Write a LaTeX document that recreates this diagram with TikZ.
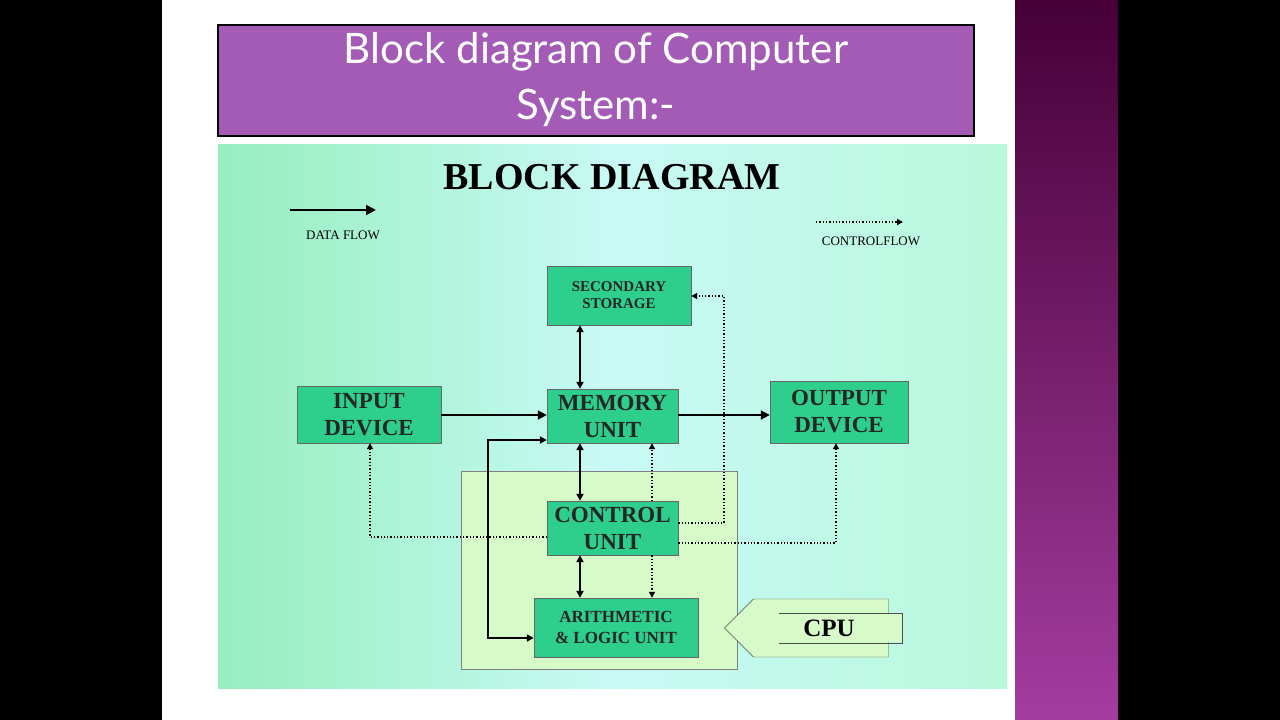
\documentclass[tikz,border=0pt]{standalone}
\usepackage{fontspec}
\setmainfont{Liberation Serif}
\newfontfamily\hdr{Lato}
\usetikzlibrary{arrows.meta,shapes.arrows}
\definecolor{boxg}{RGB}{46,206,140}
\definecolor{hpurp}{RGB}{163,91,181}
\definecolor{cpug}{RGB}{214,250,200}
\begin{document}
\begin{tikzpicture}[x=1pt,y=-1pt,
 blk/.style={draw=black!60,fill=boxg,font=\bfseries,align=center,inner sep=0pt,text=black!85},
 da/.style={line width=1.8pt,-{Triangle[length=9pt,width=9pt]}},
 dd/.style={line width=1.8pt,{Triangle[length=7pt,width=7pt]}-{Triangle[length=7pt,width=7pt]}},
 ca/.style={line width=1.3pt,dotted,-{Triangle[length=6pt,width=6pt]}}]
\useasboundingbox (0,0) rectangle (1280,720);
\fill[black] (0,0) rectangle (1280,720);
\fill[white] (162,0) rectangle (1015,720);
\shade[top color={rgb,255:red,70;green,0;blue,55},bottom color={rgb,255:red,165;green,60;blue,160}] (1015,0) rectangle (1118,720);
\node[draw=black,line width=2pt,fill=hpurp,minimum width=756pt,minimum height=111pt,inner sep=0pt,text=white,font=\hdr\fontsize{42}{56}\selectfont,align=center] (hd) at (596,80) {Block diagram of Computer\\System:-};
\shade[left color={rgb,255:red,150;green,238;blue,190},right color={rgb,255:red,185;green,248;blue,220},middle color={rgb,255:red,200;green,250;blue,245}] (218,144) rectangle (1007,688);
\node[font=\bfseries\fontsize{38}{40}\selectfont] (ti) at (612,177) {BLOCK DIAGRAM};
\coordinate (l1a) at (290,210); \coordinate (l1b) at (376,210);
\draw[line width=2pt,-{Triangle[length=10pt,width=10pt]}] (l1a) -- (l1b);
\node[font=\fontsize{13}{14}\selectfont] (lt1) at (343,235) {DATA FLOW};
\coordinate (l2a) at (816,222); \coordinate (l2b) at (903,222);
\draw[ca,line width=1.5pt] (l2a) -- (l2b);
\node[font=\fontsize{13}{14}\selectfont] (lt2) at (871,241) {CONTROLFLOW};
\node[draw=black!50,fill=cpug,minimum width=276pt,minimum height=198pt,inner sep=0pt] (cpu) at (599,570) {};
\node[blk,minimum width=144pt,minimum height=59pt,font=\bfseries\fontsize{15}{17}\selectfont] (ss) at (619,295.5) {SECONDARY\\STORAGE};
\node[blk,minimum width=144pt,minimum height=57pt,font=\bfseries\fontsize{23}{27}\selectfont] (in) at (369,414.5) {INPUT\\DEVICE};
\node[blk,minimum width=131pt,minimum height=54pt,font=\bfseries\fontsize{23}{27}\selectfont] (mu) at (612.5,416) {MEMORY\\UNIT};
\node[blk,minimum width=138pt,minimum height=62pt,font=\bfseries\fontsize{23}{27}\selectfont] (ou) at (839,412) {OUTPUT\\DEVICE};
\node[blk,minimum width=131pt,minimum height=54pt,font=\bfseries\fontsize{23}{27}\selectfont] (cu) at (612.5,528) {CONTROL\\UNIT};
\node[blk,minimum width=164pt,minimum height=59pt,font=\bfseries\fontsize{17}{21}\selectfont] (alu) at (616,627.5) {ARITHMETIC\\\& LOGIC UNIT};
\node[single arrow,shape border rotate=180,draw=black!70,fill=cpug,minimum height=164pt,minimum width=58pt,single arrow head extend=0pt,inner sep=0pt,text width=0pt] (ca) at (821,628) {};
\fill[cpug] (779,614) rectangle (902,642);
\draw[black!70] (779,613) -- (902,613) -- (902,643) -- (779,643);
\node[font=\bfseries\fontsize{25}{27}\selectfont] (cpt) at (829,628) {CPU};
% data flow
\draw[dd] (ss.south -| 580,0) -- (mu.north -| 580,0);
\draw[da] (in.east |- 0,415) -- (mu.west |- 0,415);
\draw[da] (mu.east |- 0,415) -- (ou.west |- 0,415);
\draw[dd] (mu.south -| 580,0) -- (cu.north -| 580,0);
\draw[dd] (cu.south -| 580,0) -- (alu.north -| 580,0);
\coordinate (lp1) at (488,440); \coordinate (lp2) at (488,638);
\draw[line width=1.8pt,-{Triangle[length=7pt,width=7pt]}] (lp2) -- (lp1) -- (mu.west |- 0,440);
\draw[line width=1.8pt,-{Triangle[length=7pt,width=7pt]}] (lp1) -- (lp2) -- (alu.west |- 0,638);
% control flow
\coordinate (c1) at (724,523); \coordinate (c2) at (724,296);
\draw[ca] (cu.east |- 0,523) -- (c1) -- (c2) -- (ss.east |- 0,296);
\coordinate (c3) at (370,537);
\draw[ca] (cu.west |- 0,537) -- (c3) -- (in.south -| 370,0);
\coordinate (c4) at (836,543);
\draw[ca] (cu.east |- 0,543) -- (c4) -- (ou.south -| 836,0);
\draw[ca] (cu.north -| 652,0) -- (mu.south -| 652,0);
\draw[ca] (cu.south -| 652,0) -- (alu.north -| 652,0);
\end{tikzpicture}
\end{document}
